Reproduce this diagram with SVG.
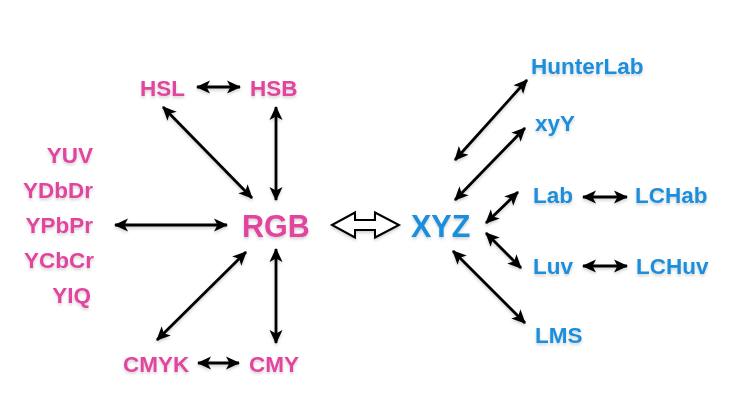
<svg xmlns="http://www.w3.org/2000/svg" width="745" height="419" viewBox="0 0 745 419">
  <defs>
    <marker id="ah" viewBox="0 0 14 14" refX="13" refY="7" markerWidth="14" markerHeight="14" markerUnits="userSpaceOnUse" orient="auto-start-reverse">
      <path d="M0,0.5 L14,7 L0,13.5 L3.5,7 Z" fill="#000"/>
    </marker>
    <filter id="sh" x="-20%" y="-20%" width="140%" height="160%">
      <feDropShadow dx="0" dy="2" stdDeviation="1.5" flood-color="#000" flood-opacity="0.18"/>
    </filter>
  </defs>
  <style>
    text { font-family: "Liberation Sans", Arial, sans-serif; font-weight: bold; }
    .p { fill: #E1449D; font-size: 22.5px; }
    .b { fill: #1D8EDC; font-size: 22.5px; }
    .big { font-size: 30.5px; }
    .c line { stroke: #000; stroke-width: 2.8; fill: none; marker-start: url(#ah); marker-end: url(#ah); }
  </style>
  <rect width="745" height="419" fill="#fff"/>

  <g id="connectors" class="c" filter="url(#sh)">
    <line x1="197" y1="87" x2="240" y2="87"/>
    <line x1="163" y1="107" x2="252" y2="198"/>
    <line x1="276" y1="107" x2="276" y2="200"/>
    <line x1="115" y1="225" x2="227" y2="225"/>
    <line x1="246" y1="252" x2="157" y2="340"/>
    <line x1="276" y1="249" x2="276" y2="343"/>
    <line x1="198" y1="363" x2="239" y2="363"/>
    <line x1="527" y1="80" x2="455" y2="160"/>
    <line x1="525" y1="128" x2="455" y2="200"/>
    <line x1="518" y1="192" x2="486" y2="223"/>
    <line x1="486" y1="233" x2="521" y2="268"/>
    <line x1="453" y1="251" x2="525" y2="323"/>
    <line x1="583" y1="197" x2="627" y2="197"/>
    <line x1="583" y1="266" x2="627" y2="266"/>
    <polygon id="rgb-xyz" points="332,225 355,212.5 355,220 375,220 375,212.5 399,225 375,237.5 375,230 355,230 355,237.5" fill="#fff" stroke="#000" stroke-width="2" stroke-linejoin="miter"/>
  </g>

  <g id="RGB" filter="url(#sh)"><text class="p big" x="242" y="237">RGB</text></g>
  <g id="XYZ" filter="url(#sh)"><text class="b big" x="411" y="237">XYZ</text></g>
  <g id="HSL" filter="url(#sh)"><text class="p" x="140" y="96">HSL</text></g>
  <g id="HSB" filter="url(#sh)"><text class="p" x="250" y="96">HSB</text></g>
  <g id="YUV" filter="url(#sh)"><text class="p" x="93" y="163" text-anchor="end">YUV</text></g>
  <g id="YDbDr" filter="url(#sh)"><text class="p" x="93" y="198" text-anchor="end">YDbDr</text></g>
  <g id="YPbPr" filter="url(#sh)"><text class="p" x="93" y="233" text-anchor="end">YPbPr</text></g>
  <g id="YCbCr" filter="url(#sh)"><text class="p" x="94" y="268" text-anchor="end">YCbCr</text></g>
  <g id="YIQ" filter="url(#sh)"><text class="p" x="91" y="303" text-anchor="end">YIQ</text></g>
  <g id="CMYK" filter="url(#sh)"><text class="p" x="123" y="372">CMYK</text></g>
  <g id="CMY" filter="url(#sh)"><text class="p" x="249" y="372">CMY</text></g>
  <g id="HunterLab" filter="url(#sh)"><text class="b" x="531" y="74">HunterLab</text></g>
  <g id="xyY" filter="url(#sh)"><text class="b" x="535" y="131">xyY</text></g>
  <g id="Lab" filter="url(#sh)"><text class="b" x="533" y="203">Lab</text></g>
  <g id="LCHab" filter="url(#sh)"><text class="b" x="635" y="203">LCHab</text></g>
  <g id="Luv" filter="url(#sh)"><text class="b" x="533" y="274">Luv</text></g>
  <g id="LCHuv" filter="url(#sh)"><text class="b" x="636" y="274">LCHuv</text></g>
  <g id="LMS" filter="url(#sh)"><text class="b" x="535" y="343">LMS</text></g>
</svg>
